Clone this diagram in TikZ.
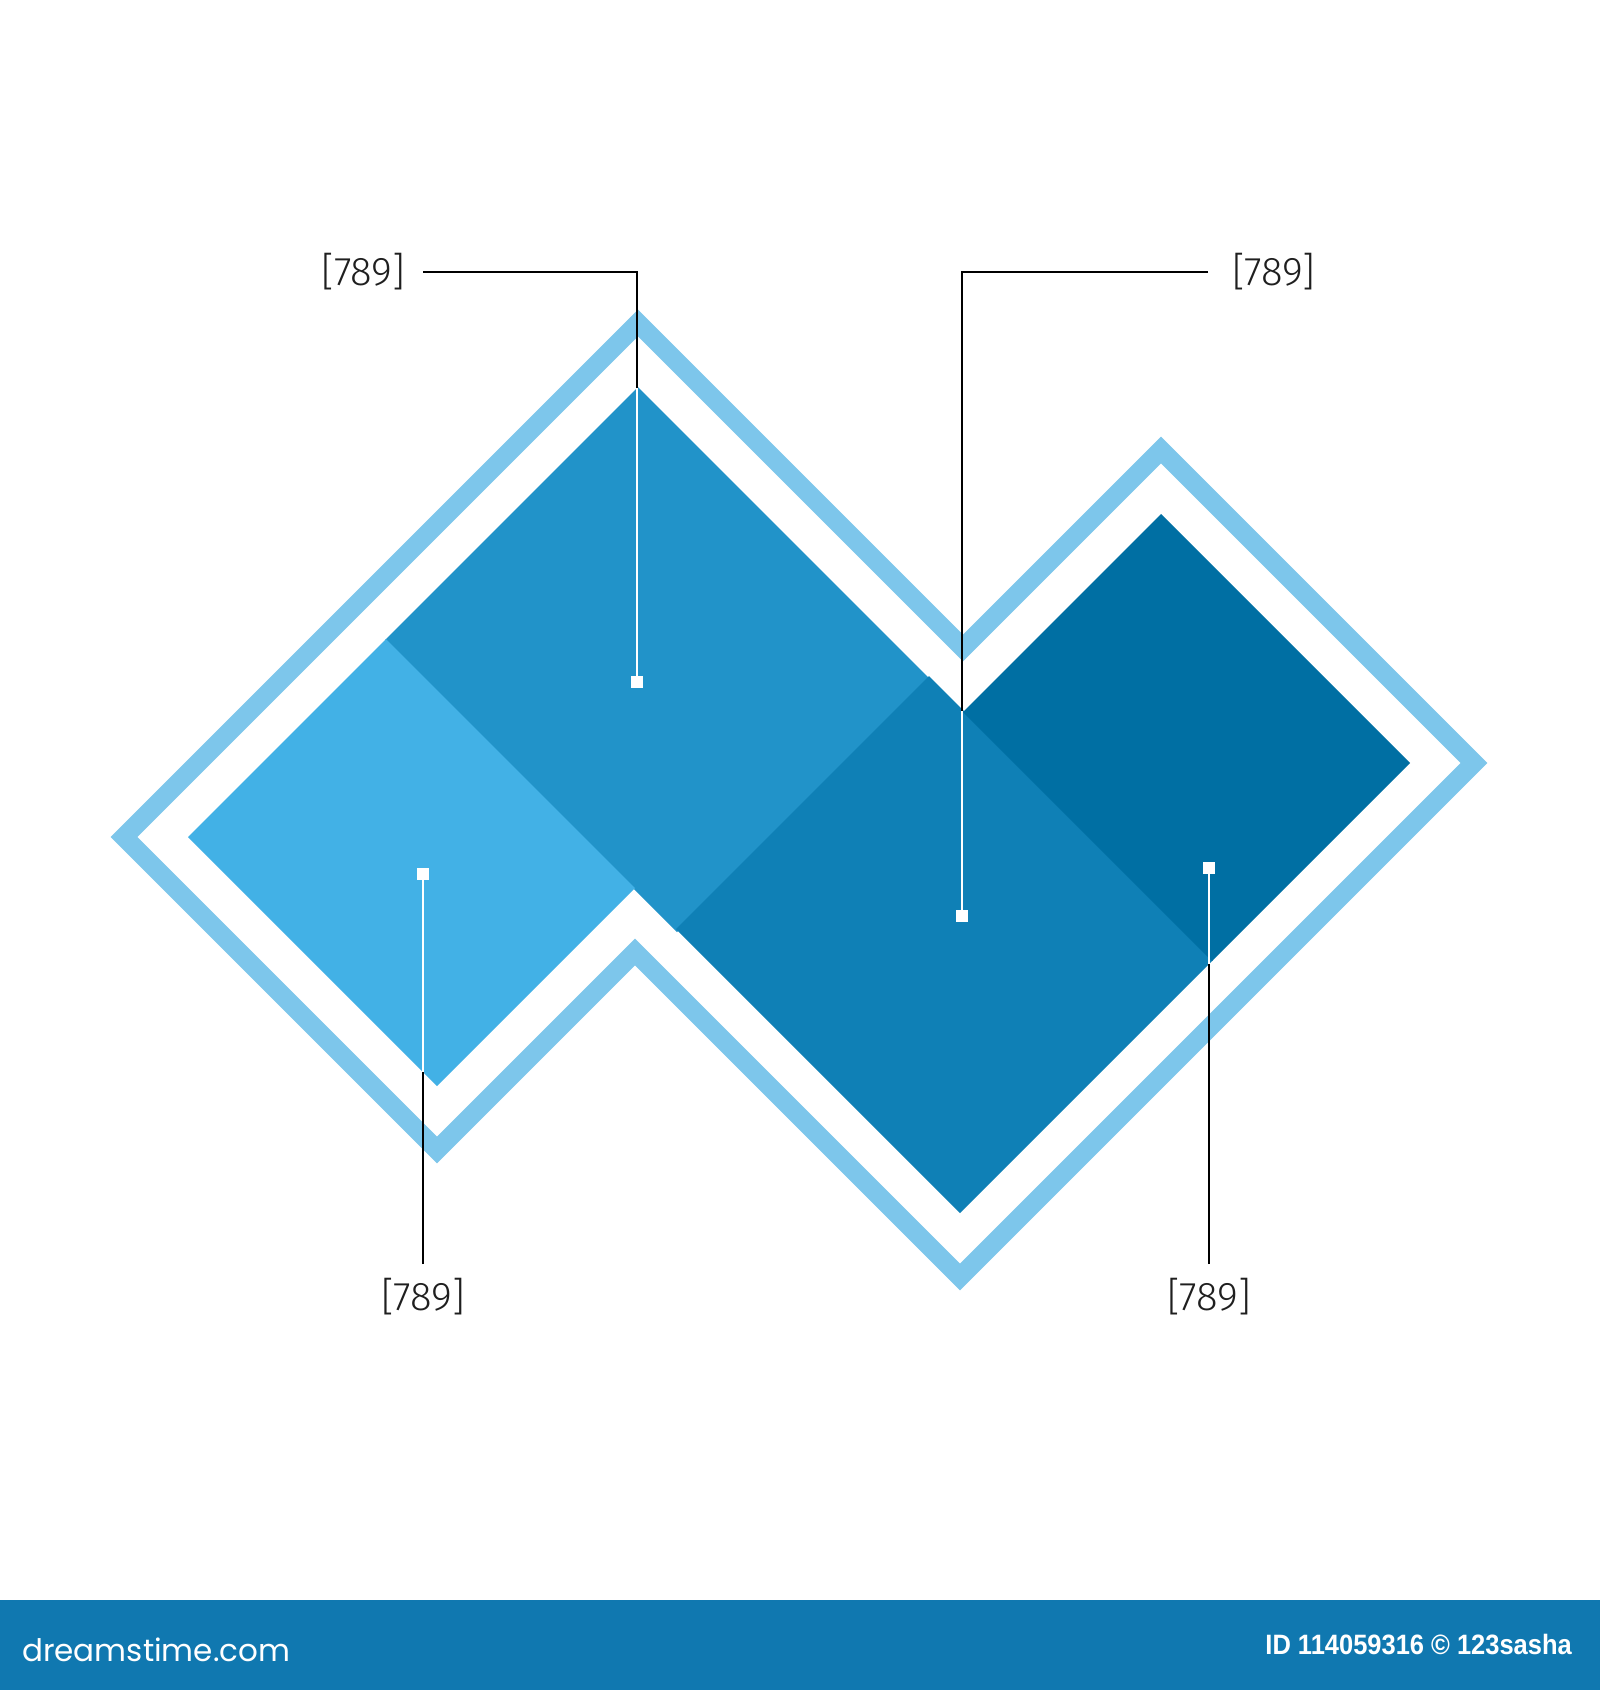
\documentclass[tikz,border=0pt]{standalone}
\usepackage{fontspec}
\newfontfamily\labfont{Fira Sans Light}
\newfontfamily\logofont{Poppins}
\newfontfamily\idfont{Liberation Sans}
\definecolor{cLight}{HTML}{42B1E6}
\definecolor{cMed}{HTML}{2193C9}
\definecolor{cCen}{HTML}{0F80B6}
\definecolor{cDark}{HTML}{006FA3}
\definecolor{cLine}{HTML}{7DC6EB}
\definecolor{cBar}{HTML}{1078B0}
\begin{document}
\begin{tikzpicture}[x=1pt,y=-1pt,
  lab/.style={font={\labfont\fontsize{40}{48}\selectfont}, text=black!88},
  leader/.style={draw=black, line width=2pt},
  wleader/.style={draw=white, line width=2pt},
  dot/.style={rectangle, fill=white, minimum size=12pt, inner sep=0pt},
  frame/.style={draw=cLine, line width=19pt, line join=miter}]
\useasboundingbox (0,0) rectangle (1600,1690);
\fill[white] (0,0) rectangle (1600,1690);
% blue shapes in a 45-degree frame (s up-right, t down-right)
\begin{scope}[shift={(188,837)}, x={(1pt,1pt)}, y={(1pt,-1pt)}]
  \fill[cMed] (197,0) -- (450,0) -- (450,292) -- (197,292) -- cycle;
  \fill[cLight] (0,0) -- (198,0) -- (198,249) -- (0,249) -- cycle;
  \fill[cCen] (198,290) -- (451,290) -- (451,574) -- (198,574) -- cycle;
  \fill[cDark] (450,325) -- (648,325) -- (648,574) -- (450,574) -- cycle;
  \draw[frame] (-32,-32) -- (482,-32) -- (482,293) -- (680,293) -- (680,606)
    -- (166,606) -- (166,281) -- (-32,281) -- cycle;
\end{scope}
% leaders
\coordinate (b1) at (637,272);
\coordinate (e1) at (637,388);
\coordinate (b2) at (962,272);
\coordinate (e2) at (962,711);
\coordinate (e3) at (423,1072);
\coordinate (e4) at (1209,964);
\node[lab, anchor=east, inner xsep=18pt] (lab1) at (423,272) {[789]};
\node[lab, anchor=west, inner xsep=24pt] (lab2) at (1208,272) {[789]};
\node[lab, anchor=north, inner ysep=14pt] (lab3) at (423,1264) {[789]};
\node[lab, anchor=north, inner ysep=14pt] (lab4) at (1209,1264) {[789]};
\draw[leader] (lab1.east) -- (b1) -- (e1);
\draw[leader] (lab2.west) -- (b2) -- (e2);
\draw[leader] (lab3.north) -- (e3);
\draw[leader] (lab4.north) -- (e4);
\node[dot] (sq1) at (637,682) {};
\node[dot] (sq2) at (962,916) {};
\node[dot] (sq3) at (423,874) {};
\node[dot] (sq4) at (1209,868) {};
\draw[wleader] (e1) -- (sq1);
\draw[wleader] (e2) -- (sq2);
\draw[wleader] (e3) -- (sq3);
\draw[wleader] (e4) -- (sq4);
% footer bar
\fill[cBar] (0,1600) rectangle (1600,1690);
\node[anchor=base west, inner sep=0pt, text=white, font={\logofont\fontsize{31}{37}\selectfont}] (logo) at (22,1661) {dreamstime.com};
\node[anchor=base east, inner sep=0pt, text=white, font={\idfont\bfseries\fontsize{28}{34}\selectfont}] (idtxt) at (1572,1654) {\scalebox{0.91}[1]{ID 114059316 © 123sasha}};
\end{tikzpicture}
\end{document}
